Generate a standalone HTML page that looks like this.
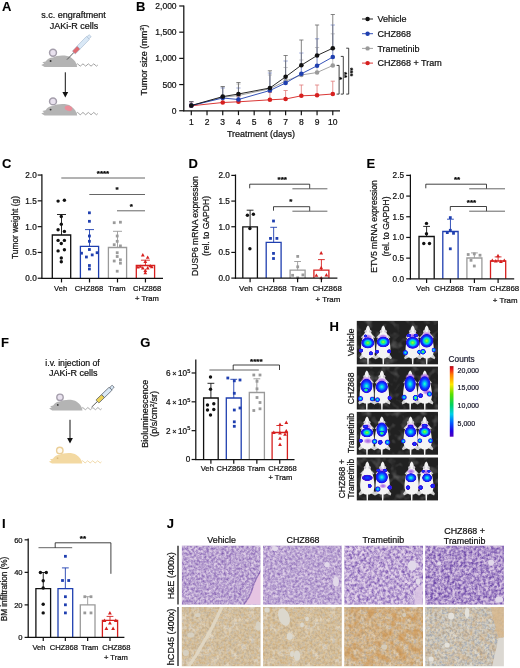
<!DOCTYPE html>
<html lang="en"><head><meta charset="utf-8"><title>Figure</title>
<style>html,body{margin:0;padding:0;background:#fff}svg{display:block}text{font-family:"Liberation Sans", Arial, sans-serif}</style>
</head><body>
<svg width="520" height="668" viewBox="0 0 520 668" font-family='"Liberation Sans", Arial, sans-serif'>
<rect width="520" height="668" fill="#fff"/>
<g id="panelA">
<text x="2.00" y="11.35" font-size="13" text-anchor="start" fill="#000" stroke="#000" stroke-width="0.1" font-weight="bold">A</text>
<text x="73.50" y="18.42" font-size="9" text-anchor="middle" fill="#111" stroke="#111" stroke-width="0.22">s.c. engraftment</text>
<text x="74.00" y="28.62" font-size="9" text-anchor="middle" fill="#111" stroke="#111" stroke-width="0.22">JAKi-R cells</text>
<g transform="translate(53.00 52.80) scale(1.0) translate(-53 -52.8)">
<path d="M76.2 65.0 q1.35 -2.3 2.7 0 t2.7 0 q1.35 -2.3 2.7 0 t2.7 0 q1.35 -2.3 2.7 0 t2.7 0 q1.35 -2.3 2.7 0 t2.7 0" stroke="#a0a0a0" stroke-width="1.0" fill="none"/>
<path d="M41.3 64.9 L44.2 63.6 L42.3 62.3 L45.6 61.6 C47.5 58.6 50 57.6 53 57.4 C56 55.6 66 54.2 71 57.6 C74.5 60 76.6 63 77.2 66.9 L44.6 66.9 Z" fill="#b4b4b4"/>
<circle cx="53" cy="52.8" r="3.45" fill="#e9e2ef" stroke="#a49eab" stroke-width="1.5"/>
<circle cx="50.6" cy="61" r="0.95" fill="#333"/>
</g>
<g transform="translate(67.00 59.60) rotate(-46)">
<line x1="0" y1="0" x2="10.3" y2="0" stroke="#555" stroke-width="0.9"/>
<rect x="16.400000000000002" y="-2.1" width="13.9" height="4.2" rx="0.7" fill="#d9e8f6" stroke="#9ab0c8" stroke-width="0.5"/>
<rect x="9.8" y="-2.1" width="6.9" height="4.2" rx="0.6" fill="#e06a70" stroke="#9ab0c8" stroke-width="0.5"/>
<rect x="30.300000000000004" y="-1.512" width="3.1" height="3.024" rx="0.8" fill="#d9e8f6" stroke="#9ab0c8" stroke-width="0.5"/>
</g>
<line x1="65.30" y1="72.30" x2="65.30" y2="92.40" stroke="#111" stroke-width="1.0"/>
<path d="M62.40 91.90 L68.20 91.90 L65.30 97.50 Z" fill="#111"/>
<g transform="translate(53.00 101.40) scale(1.0) translate(-53 -52.8)">
<path d="M76.2 65.0 q1.35 -2.3 2.7 0 t2.7 0 q1.35 -2.3 2.7 0 t2.7 0 q1.35 -2.3 2.7 0 t2.7 0 q1.35 -2.3 2.7 0 t2.7 0" stroke="#a0a0a0" stroke-width="1.0" fill="none"/>
<path d="M41.3 64.9 L44.2 63.6 L42.3 62.3 L45.6 61.6 C47.5 58.6 50 57.6 53 57.4 C56 55.6 66 54.2 71 57.6 C74.5 60 76.6 63 77.2 66.9 L44.6 66.9 Z" fill="#b4b4b4"/>
<circle cx="53" cy="52.8" r="3.45" fill="#e9e2ef" stroke="#a49eab" stroke-width="1.5"/>
<circle cx="50.6" cy="61" r="0.95" fill="#333"/>
</g>
<ellipse cx="68.5" cy="108.3" rx="3.9" ry="2.6" transform="rotate(18 68.5 108.3)" fill="#ea8e9a"/>
</g>
<g id="panelB">
<text x="136.00" y="11.35" font-size="13" text-anchor="start" fill="#000" stroke="#000" stroke-width="0.1" font-weight="bold">B</text>
<line x1="183.80" y1="5.40" x2="183.80" y2="111.35" stroke="#111" stroke-width="1.25"/>
<line x1="183.20" y1="110.75" x2="340.00" y2="110.75" stroke="#111" stroke-width="1.25"/>
<line x1="179.20" y1="110.75" x2="183.80" y2="110.75" stroke="#111" stroke-width="1.2"/>
<text x="176.60" y="113.79" font-size="8.5" text-anchor="end" fill="#111" stroke="#111" stroke-width="0.22">0</text>
<line x1="179.20" y1="84.56" x2="183.80" y2="84.56" stroke="#111" stroke-width="1.2"/>
<text x="176.60" y="87.60" font-size="8.5" text-anchor="end" fill="#111" stroke="#111" stroke-width="0.22">500</text>
<line x1="179.20" y1="58.37" x2="183.80" y2="58.37" stroke="#111" stroke-width="1.2"/>
<text x="176.60" y="61.41" font-size="8.5" text-anchor="end" fill="#111" stroke="#111" stroke-width="0.22">1,000</text>
<line x1="179.20" y1="32.18" x2="183.80" y2="32.18" stroke="#111" stroke-width="1.2"/>
<text x="176.60" y="35.22" font-size="8.5" text-anchor="end" fill="#111" stroke="#111" stroke-width="0.22">1,500</text>
<line x1="179.20" y1="5.99" x2="183.80" y2="5.99" stroke="#111" stroke-width="1.2"/>
<text x="176.60" y="9.03" font-size="8.5" text-anchor="end" fill="#111" stroke="#111" stroke-width="0.22">2,000</text>
<line x1="191.30" y1="110.75" x2="191.30" y2="115.15" stroke="#111" stroke-width="1.2"/>
<text x="191.30" y="125.04" font-size="8.5" text-anchor="middle" fill="#111" stroke="#111" stroke-width="0.22">1</text>
<line x1="207.02" y1="110.75" x2="207.02" y2="115.15" stroke="#111" stroke-width="1.2"/>
<text x="207.02" y="125.04" font-size="8.5" text-anchor="middle" fill="#111" stroke="#111" stroke-width="0.22">2</text>
<line x1="222.74" y1="110.75" x2="222.74" y2="115.15" stroke="#111" stroke-width="1.2"/>
<text x="222.74" y="125.04" font-size="8.5" text-anchor="middle" fill="#111" stroke="#111" stroke-width="0.22">3</text>
<line x1="238.46" y1="110.75" x2="238.46" y2="115.15" stroke="#111" stroke-width="1.2"/>
<text x="238.46" y="125.04" font-size="8.5" text-anchor="middle" fill="#111" stroke="#111" stroke-width="0.22">4</text>
<line x1="254.18" y1="110.75" x2="254.18" y2="115.15" stroke="#111" stroke-width="1.2"/>
<text x="254.18" y="125.04" font-size="8.5" text-anchor="middle" fill="#111" stroke="#111" stroke-width="0.22">5</text>
<line x1="269.90" y1="110.75" x2="269.90" y2="115.15" stroke="#111" stroke-width="1.2"/>
<text x="269.90" y="125.04" font-size="8.5" text-anchor="middle" fill="#111" stroke="#111" stroke-width="0.22">6</text>
<line x1="285.62" y1="110.75" x2="285.62" y2="115.15" stroke="#111" stroke-width="1.2"/>
<text x="285.62" y="125.04" font-size="8.5" text-anchor="middle" fill="#111" stroke="#111" stroke-width="0.22">7</text>
<line x1="301.34" y1="110.75" x2="301.34" y2="115.15" stroke="#111" stroke-width="1.2"/>
<text x="301.34" y="125.04" font-size="8.5" text-anchor="middle" fill="#111" stroke="#111" stroke-width="0.22">8</text>
<line x1="317.06" y1="110.75" x2="317.06" y2="115.15" stroke="#111" stroke-width="1.2"/>
<text x="317.06" y="125.04" font-size="8.5" text-anchor="middle" fill="#111" stroke="#111" stroke-width="0.22">9</text>
<line x1="332.78" y1="110.75" x2="332.78" y2="115.15" stroke="#111" stroke-width="1.2"/>
<text x="332.78" y="125.04" font-size="8.5" text-anchor="middle" fill="#111" stroke="#111" stroke-width="0.22">10</text>
<text x="143.80" y="63.22" font-size="9" text-anchor="middle" fill="#111" stroke="#111" stroke-width="0.22" transform="rotate(-90 143.80 60.00)">Tumor size (mm<tspan font-size="6" dy="-3.2">3</tspan><tspan dy="3.2">)</tspan></text>
<text x="261.00" y="137.22" font-size="9" text-anchor="middle" fill="#111" stroke="#111" stroke-width="0.22">Treatment (days)</text>
<line x1="191.30" y1="105.60" x2="191.30" y2="101.50" stroke="#b5b5b5" stroke-width="0.8"/>
<line x1="189.20" y1="101.50" x2="193.40" y2="101.50" stroke="#b5b5b5" stroke-width="0.8"/>
<line x1="222.74" y1="97.20" x2="222.74" y2="87.00" stroke="#b5b5b5" stroke-width="0.8"/>
<line x1="220.64" y1="87.00" x2="224.84" y2="87.00" stroke="#b5b5b5" stroke-width="0.8"/>
<line x1="238.46" y1="95.50" x2="238.46" y2="84.00" stroke="#b5b5b5" stroke-width="0.8"/>
<line x1="236.36" y1="84.00" x2="240.56" y2="84.00" stroke="#b5b5b5" stroke-width="0.8"/>
<line x1="269.90" y1="88.80" x2="269.90" y2="75.00" stroke="#b5b5b5" stroke-width="0.8"/>
<line x1="267.80" y1="75.00" x2="272.00" y2="75.00" stroke="#b5b5b5" stroke-width="0.8"/>
<line x1="285.62" y1="81.00" x2="285.62" y2="67.50" stroke="#b5b5b5" stroke-width="0.8"/>
<line x1="283.52" y1="67.50" x2="287.72" y2="67.50" stroke="#b5b5b5" stroke-width="0.8"/>
<line x1="301.34" y1="75.00" x2="301.34" y2="60.00" stroke="#b5b5b5" stroke-width="0.8"/>
<line x1="299.24" y1="60.00" x2="303.44" y2="60.00" stroke="#b5b5b5" stroke-width="0.8"/>
<line x1="317.06" y1="72.50" x2="317.06" y2="47.50" stroke="#b5b5b5" stroke-width="0.8"/>
<line x1="314.96" y1="47.50" x2="319.16" y2="47.50" stroke="#b5b5b5" stroke-width="0.8"/>
<line x1="332.78" y1="65.50" x2="332.78" y2="33.80" stroke="#b5b5b5" stroke-width="0.8"/>
<line x1="330.68" y1="33.80" x2="334.88" y2="33.80" stroke="#b5b5b5" stroke-width="0.8"/>
<polyline points="191.30,105.60 222.74,97.20 238.46,95.50 269.90,88.80 285.62,81.00 301.34,75.00 317.06,72.50 332.78,65.50" fill="none" stroke="#9a9a9a" stroke-width="0.9"/>
<circle cx="191.30" cy="105.60" r="2.3" fill="#9a9a9a"/>
<circle cx="222.74" cy="97.20" r="2.3" fill="#9a9a9a"/>
<circle cx="238.46" cy="95.50" r="2.3" fill="#9a9a9a"/>
<circle cx="269.90" cy="88.80" r="2.3" fill="#9a9a9a"/>
<circle cx="285.62" cy="81.00" r="2.3" fill="#9a9a9a"/>
<circle cx="301.34" cy="75.00" r="2.3" fill="#9a9a9a"/>
<circle cx="317.06" cy="72.50" r="2.3" fill="#9a9a9a"/>
<circle cx="332.78" cy="65.50" r="2.3" fill="#9a9a9a"/>
<line x1="191.30" y1="105.80" x2="191.30" y2="102.00" stroke="#e07a78" stroke-width="0.8"/>
<line x1="189.20" y1="102.00" x2="193.40" y2="102.00" stroke="#e07a78" stroke-width="0.8"/>
<line x1="222.74" y1="102.50" x2="222.74" y2="97.00" stroke="#e07a78" stroke-width="0.8"/>
<line x1="220.64" y1="97.00" x2="224.84" y2="97.00" stroke="#e07a78" stroke-width="0.8"/>
<line x1="238.46" y1="101.80" x2="238.46" y2="96.00" stroke="#e07a78" stroke-width="0.8"/>
<line x1="236.36" y1="96.00" x2="240.56" y2="96.00" stroke="#e07a78" stroke-width="0.8"/>
<line x1="269.90" y1="99.80" x2="269.90" y2="92.50" stroke="#e07a78" stroke-width="0.8"/>
<line x1="267.80" y1="92.50" x2="272.00" y2="92.50" stroke="#e07a78" stroke-width="0.8"/>
<line x1="285.62" y1="99.00" x2="285.62" y2="90.50" stroke="#e07a78" stroke-width="0.8"/>
<line x1="283.52" y1="90.50" x2="287.72" y2="90.50" stroke="#e07a78" stroke-width="0.8"/>
<line x1="301.34" y1="95.80" x2="301.34" y2="85.00" stroke="#e07a78" stroke-width="0.8"/>
<line x1="299.24" y1="85.00" x2="303.44" y2="85.00" stroke="#e07a78" stroke-width="0.8"/>
<line x1="317.06" y1="95.20" x2="317.06" y2="85.00" stroke="#e07a78" stroke-width="0.8"/>
<line x1="314.96" y1="85.00" x2="319.16" y2="85.00" stroke="#e07a78" stroke-width="0.8"/>
<line x1="332.78" y1="94.00" x2="332.78" y2="81.20" stroke="#e07a78" stroke-width="0.8"/>
<line x1="330.68" y1="81.20" x2="334.88" y2="81.20" stroke="#e07a78" stroke-width="0.8"/>
<polyline points="191.30,105.80 222.74,102.50 238.46,101.80 269.90,99.80 285.62,99.00 301.34,95.80 317.06,95.20 332.78,94.00" fill="none" stroke="#d6201f" stroke-width="0.9"/>
<circle cx="191.30" cy="105.80" r="2.3" fill="#d6201f"/>
<circle cx="222.74" cy="102.50" r="2.3" fill="#d6201f"/>
<circle cx="238.46" cy="101.80" r="2.3" fill="#d6201f"/>
<circle cx="269.90" cy="99.80" r="2.3" fill="#d6201f"/>
<circle cx="285.62" cy="99.00" r="2.3" fill="#d6201f"/>
<circle cx="301.34" cy="95.80" r="2.3" fill="#d6201f"/>
<circle cx="317.06" cy="95.20" r="2.3" fill="#d6201f"/>
<circle cx="332.78" cy="94.00" r="2.3" fill="#d6201f"/>
<line x1="191.30" y1="105.60" x2="191.30" y2="101.80" stroke="#7d8fd0" stroke-width="0.8"/>
<line x1="189.20" y1="101.80" x2="193.40" y2="101.80" stroke="#7d8fd0" stroke-width="0.8"/>
<line x1="222.74" y1="98.00" x2="222.74" y2="88.00" stroke="#7d8fd0" stroke-width="0.8"/>
<line x1="220.64" y1="88.00" x2="224.84" y2="88.00" stroke="#7d8fd0" stroke-width="0.8"/>
<line x1="238.46" y1="99.50" x2="238.46" y2="88.00" stroke="#7d8fd0" stroke-width="0.8"/>
<line x1="236.36" y1="88.00" x2="240.56" y2="88.00" stroke="#7d8fd0" stroke-width="0.8"/>
<line x1="269.90" y1="90.50" x2="269.90" y2="73.00" stroke="#7d8fd0" stroke-width="0.8"/>
<line x1="267.80" y1="73.00" x2="272.00" y2="73.00" stroke="#7d8fd0" stroke-width="0.8"/>
<line x1="285.62" y1="83.00" x2="285.62" y2="61.00" stroke="#7d8fd0" stroke-width="0.8"/>
<line x1="283.52" y1="61.00" x2="287.72" y2="61.00" stroke="#7d8fd0" stroke-width="0.8"/>
<line x1="301.34" y1="73.80" x2="301.34" y2="53.00" stroke="#7d8fd0" stroke-width="0.8"/>
<line x1="299.24" y1="53.00" x2="303.44" y2="53.00" stroke="#7d8fd0" stroke-width="0.8"/>
<line x1="317.06" y1="65.80" x2="317.06" y2="38.80" stroke="#7d8fd0" stroke-width="0.8"/>
<line x1="314.96" y1="38.80" x2="319.16" y2="38.80" stroke="#7d8fd0" stroke-width="0.8"/>
<line x1="332.78" y1="57.00" x2="332.78" y2="25.00" stroke="#7d8fd0" stroke-width="0.8"/>
<line x1="330.68" y1="25.00" x2="334.88" y2="25.00" stroke="#7d8fd0" stroke-width="0.8"/>
<polyline points="191.30,105.60 222.74,98.00 238.46,99.50 269.90,90.50 285.62,83.00 301.34,73.80 317.06,65.80 332.78,57.00" fill="none" stroke="#1f3fb0" stroke-width="0.9"/>
<circle cx="191.30" cy="105.60" r="2.3" fill="#1f3fb0"/>
<circle cx="222.74" cy="98.00" r="2.3" fill="#1f3fb0"/>
<circle cx="238.46" cy="99.50" r="2.3" fill="#1f3fb0"/>
<circle cx="269.90" cy="90.50" r="2.3" fill="#1f3fb0"/>
<circle cx="285.62" cy="83.00" r="2.3" fill="#1f3fb0"/>
<circle cx="301.34" cy="73.80" r="2.3" fill="#1f3fb0"/>
<circle cx="317.06" cy="65.80" r="2.3" fill="#1f3fb0"/>
<circle cx="332.78" cy="57.00" r="2.3" fill="#1f3fb0"/>
<line x1="191.30" y1="105.50" x2="191.30" y2="101.50" stroke="#666" stroke-width="0.8"/>
<line x1="189.20" y1="101.50" x2="193.40" y2="101.50" stroke="#666" stroke-width="0.8"/>
<line x1="222.74" y1="96.60" x2="222.74" y2="86.50" stroke="#666" stroke-width="0.8"/>
<line x1="220.64" y1="86.50" x2="224.84" y2="86.50" stroke="#666" stroke-width="0.8"/>
<line x1="238.46" y1="94.00" x2="238.46" y2="82.50" stroke="#666" stroke-width="0.8"/>
<line x1="236.36" y1="82.50" x2="240.56" y2="82.50" stroke="#666" stroke-width="0.8"/>
<line x1="269.90" y1="88.00" x2="269.90" y2="70.80" stroke="#666" stroke-width="0.8"/>
<line x1="267.80" y1="70.80" x2="272.00" y2="70.80" stroke="#666" stroke-width="0.8"/>
<line x1="285.62" y1="76.80" x2="285.62" y2="55.50" stroke="#666" stroke-width="0.8"/>
<line x1="283.52" y1="55.50" x2="287.72" y2="55.50" stroke="#666" stroke-width="0.8"/>
<line x1="301.34" y1="65.20" x2="301.34" y2="40.00" stroke="#666" stroke-width="0.8"/>
<line x1="299.24" y1="40.00" x2="303.44" y2="40.00" stroke="#666" stroke-width="0.8"/>
<line x1="317.06" y1="55.50" x2="317.06" y2="25.00" stroke="#666" stroke-width="0.8"/>
<line x1="314.96" y1="25.00" x2="319.16" y2="25.00" stroke="#666" stroke-width="0.8"/>
<line x1="332.78" y1="48.20" x2="332.78" y2="14.50" stroke="#666" stroke-width="0.8"/>
<line x1="330.68" y1="14.50" x2="334.88" y2="14.50" stroke="#666" stroke-width="0.8"/>
<polyline points="191.30,105.50 222.74,96.60 238.46,94.00 269.90,88.00 285.62,76.80 301.34,65.20 317.06,55.50 332.78,48.20" fill="none" stroke="#111" stroke-width="0.9"/>
<circle cx="191.30" cy="105.50" r="2.3" fill="#111"/>
<circle cx="222.74" cy="96.60" r="2.3" fill="#111"/>
<circle cx="238.46" cy="94.00" r="2.3" fill="#111"/>
<circle cx="269.90" cy="88.00" r="2.3" fill="#111"/>
<circle cx="285.62" cy="76.80" r="2.3" fill="#111"/>
<circle cx="301.34" cy="65.20" r="2.3" fill="#111"/>
<circle cx="317.06" cy="55.50" r="2.3" fill="#111"/>
<circle cx="332.78" cy="48.20" r="2.3" fill="#111"/>
<path d="M336.6 65.4 H339.1 V94.1 H336.6" stroke="#111" stroke-width="0.8" fill="none"/>
<path d="M340.8 56.4 H343.3 V94.1 H340.8" stroke="#111" stroke-width="0.8" fill="none"/>
<path d="M346.2 48.2 H348.7 V94.1 H346.2" stroke="#111" stroke-width="0.8" fill="none"/>
<text x="339.90" y="81.05" font-size="7.4" text-anchor="middle" fill="#000" stroke="#000" stroke-width="0.22" font-weight="bold" transform="rotate(90 339.90 78.40)">*</text>
<text x="345.00" y="77.65" font-size="7.4" text-anchor="middle" fill="#000" stroke="#000" stroke-width="0.22" font-weight="bold" transform="rotate(90 345.00 75.00)">**</text>
<text x="350.30" y="74.65" font-size="7.4" text-anchor="middle" fill="#000" stroke="#000" stroke-width="0.22" font-weight="bold" transform="rotate(90 350.30 72.00)">***</text>
<line x1="362.00" y1="19.00" x2="373.00" y2="19.00" stroke="#111" stroke-width="0.9"/>
<circle cx="367.6" cy="19.00" r="2.2" fill="#111"/>
<text x="377.40" y="22.22" font-size="9" text-anchor="start" fill="#111" stroke="#111" stroke-width="0.22">Vehicle</text>
<line x1="362.00" y1="33.70" x2="373.00" y2="33.70" stroke="#1f3fb0" stroke-width="0.9"/>
<circle cx="367.6" cy="33.70" r="2.2" fill="#1f3fb0"/>
<text x="377.40" y="36.92" font-size="9" text-anchor="start" fill="#111" stroke="#111" stroke-width="0.22">CHZ868</text>
<line x1="362.00" y1="48.40" x2="373.00" y2="48.40" stroke="#9a9a9a" stroke-width="0.9"/>
<circle cx="367.6" cy="48.40" r="2.2" fill="#9a9a9a"/>
<text x="377.40" y="51.62" font-size="9" text-anchor="start" fill="#111" stroke="#111" stroke-width="0.22">Trametinib</text>
<line x1="362.00" y1="63.10" x2="373.00" y2="63.10" stroke="#d6201f" stroke-width="0.9"/>
<circle cx="367.6" cy="63.10" r="2.2" fill="#d6201f"/>
<text x="377.40" y="66.32" font-size="9" text-anchor="start" fill="#111" stroke="#111" stroke-width="0.22">CHZ868 + Tram</text>
</g>
<text x="2.00" y="167.65" font-size="13" text-anchor="start" fill="#000" stroke="#000" stroke-width="0.1" font-weight="bold">C</text>
<text x="14.50" y="230.51" font-size="8.4" text-anchor="middle" fill="#111" stroke="#111" stroke-width="0.22" transform="rotate(-90 14.50 227.50)">Tumor weight (g)</text>
<g id="panelC">
<path d="M52.30 278.25 V235.00 H70.70 V278.25" stroke="#111" stroke-width="1.3" fill="#fff"/>
<line x1="61.50" y1="214.50" x2="61.50" y2="235.00" stroke="#111" stroke-width="0.9"/>
<line x1="57.00" y1="214.50" x2="66.00" y2="214.50" stroke="#111" stroke-width="0.9"/>
<circle cx="58.10" cy="201.10" r="1.7" fill="#111"/>
<circle cx="64.40" cy="200.30" r="1.7" fill="#111"/>
<circle cx="61.30" cy="216.50" r="1.7" fill="#111"/>
<circle cx="61.30" cy="224.30" r="1.7" fill="#111"/>
<circle cx="58.10" cy="229.80" r="1.7" fill="#111"/>
<circle cx="64.40" cy="231.40" r="1.7" fill="#111"/>
<circle cx="58.10" cy="240.40" r="1.7" fill="#111"/>
<circle cx="64.40" cy="240.40" r="1.7" fill="#111"/>
<circle cx="61.30" cy="243.50" r="1.7" fill="#111"/>
<circle cx="58.10" cy="250.90" r="1.7" fill="#111"/>
<circle cx="64.40" cy="249.80" r="1.7" fill="#111"/>
<circle cx="61.30" cy="258.00" r="1.7" fill="#111"/>
<circle cx="61.30" cy="261.80" r="1.7" fill="#111"/>
<path d="M80.40 278.25 V246.40 H98.60 V278.25" stroke="#1f3fb0" stroke-width="1.3" fill="#fff"/>
<line x1="89.50" y1="229.60" x2="89.50" y2="246.40" stroke="#1f3fb0" stroke-width="0.9"/>
<line x1="85.00" y1="229.60" x2="94.00" y2="229.60" stroke="#1f3fb0" stroke-width="0.9"/>
<rect x="88.01" y="211.41" width="2.79" height="2.79" fill="#1f3fb0"/>
<rect x="88.01" y="219.91" width="2.79" height="2.79" fill="#1f3fb0"/>
<rect x="88.01" y="234.61" width="2.79" height="2.79" fill="#1f3fb0"/>
<rect x="88.01" y="239.91" width="2.79" height="2.79" fill="#1f3fb0"/>
<rect x="88.01" y="248.11" width="2.79" height="2.79" fill="#1f3fb0"/>
<rect x="80.11" y="251.81" width="2.79" height="2.79" fill="#1f3fb0"/>
<rect x="95.71" y="251.31" width="2.79" height="2.79" fill="#1f3fb0"/>
<rect x="85.01" y="255.61" width="2.79" height="2.79" fill="#1f3fb0"/>
<rect x="90.81" y="253.51" width="2.79" height="2.79" fill="#1f3fb0"/>
<rect x="88.01" y="264.11" width="2.79" height="2.79" fill="#1f3fb0"/>
<rect x="88.01" y="267.61" width="2.79" height="2.79" fill="#1f3fb0"/>
<path d="M108.40 278.25 V247.50 H126.60 V278.25" stroke="#9a9a9a" stroke-width="1.3" fill="#fff"/>
<line x1="117.50" y1="231.30" x2="117.50" y2="247.50" stroke="#9a9a9a" stroke-width="0.9"/>
<line x1="113.00" y1="231.30" x2="122.00" y2="231.30" stroke="#9a9a9a" stroke-width="0.9"/>
<rect x="112.81" y="221.31" width="2.79" height="2.79" fill="#9a9a9a"/>
<rect x="119.01" y="220.81" width="2.79" height="2.79" fill="#9a9a9a"/>
<rect x="115.81" y="234.61" width="2.79" height="2.79" fill="#9a9a9a"/>
<rect x="115.81" y="239.91" width="2.79" height="2.79" fill="#9a9a9a"/>
<rect x="112.81" y="243.31" width="2.79" height="2.79" fill="#9a9a9a"/>
<rect x="119.01" y="244.51" width="2.79" height="2.79" fill="#9a9a9a"/>
<rect x="115.81" y="251.31" width="2.79" height="2.79" fill="#9a9a9a"/>
<rect x="115.81" y="255.11" width="2.79" height="2.79" fill="#9a9a9a"/>
<rect x="112.81" y="259.61" width="2.79" height="2.79" fill="#9a9a9a"/>
<rect x="119.01" y="258.41" width="2.79" height="2.79" fill="#9a9a9a"/>
<rect x="119.01" y="261.81" width="2.79" height="2.79" fill="#9a9a9a"/>
<rect x="115.81" y="269.81" width="2.79" height="2.79" fill="#9a9a9a"/>
<path d="M136.30 278.25 V265.50 H154.60 V278.25" stroke="#d6201f" stroke-width="1.3" fill="#fff"/>
<line x1="145.45" y1="260.20" x2="145.45" y2="265.50" stroke="#d6201f" stroke-width="0.9"/>
<line x1="140.95" y1="260.20" x2="149.95" y2="260.20" stroke="#d6201f" stroke-width="0.9"/>
<path d="M142.80 253.00 L144.70 256.42 L140.90 256.42 Z" fill="#d6201f"/>
<path d="M147.70 255.40 L149.60 258.82 L145.80 258.82 Z" fill="#d6201f"/>
<path d="M145.30 259.50 L147.20 262.92 L143.40 262.92 Z" fill="#d6201f"/>
<path d="M140.40 264.40 L142.30 267.82 L138.50 267.82 Z" fill="#d6201f"/>
<path d="M150.20 263.90 L152.10 267.32 L148.30 267.32 Z" fill="#d6201f"/>
<path d="M137.90 265.20 L139.80 268.62 L136.00 268.62 Z" fill="#d6201f"/>
<path d="M142.80 266.00 L144.70 269.42 L140.90 269.42 Z" fill="#d6201f"/>
<path d="M147.70 266.00 L149.60 269.42 L145.80 269.42 Z" fill="#d6201f"/>
<path d="M151.80 264.90 L153.70 268.32 L149.90 268.32 Z" fill="#d6201f"/>
<path d="M145.30 268.50 L147.20 271.92 L143.40 271.92 Z" fill="#d6201f"/>
<path d="M145.30 270.90 L147.20 274.32 L143.40 274.32 Z" fill="#d6201f"/>
<line x1="41.90" y1="174.30" x2="41.90" y2="278.85" stroke="#111" stroke-width="1.25"/>
<line x1="41.30" y1="278.25" x2="163.00" y2="278.25" stroke="#111" stroke-width="1.25"/>
<line x1="37.70" y1="278.25" x2="41.90" y2="278.25" stroke="#111" stroke-width="1.2"/>
<text x="36.70" y="281.19" font-size="8.2" text-anchor="end" fill="#111" stroke="#111" stroke-width="0.22">0.0</text>
<line x1="37.70" y1="252.45" x2="41.90" y2="252.45" stroke="#111" stroke-width="1.2"/>
<text x="36.70" y="255.39" font-size="8.2" text-anchor="end" fill="#111" stroke="#111" stroke-width="0.22">0.5</text>
<line x1="37.70" y1="226.65" x2="41.90" y2="226.65" stroke="#111" stroke-width="1.2"/>
<text x="36.70" y="229.59" font-size="8.2" text-anchor="end" fill="#111" stroke="#111" stroke-width="0.22">1.0</text>
<line x1="37.70" y1="200.85" x2="41.90" y2="200.85" stroke="#111" stroke-width="1.2"/>
<text x="36.70" y="203.79" font-size="8.2" text-anchor="end" fill="#111" stroke="#111" stroke-width="0.22">1.5</text>
<line x1="37.70" y1="175.05" x2="41.90" y2="175.05" stroke="#111" stroke-width="1.2"/>
<text x="36.70" y="177.99" font-size="8.2" text-anchor="end" fill="#111" stroke="#111" stroke-width="0.22">2.0</text>
<line x1="61.50" y1="278.25" x2="61.50" y2="282.45" stroke="#111" stroke-width="1.2"/>
<line x1="89.50" y1="278.25" x2="89.50" y2="282.45" stroke="#111" stroke-width="1.2"/>
<line x1="117.50" y1="278.25" x2="117.50" y2="282.45" stroke="#111" stroke-width="1.2"/>
<line x1="145.45" y1="278.25" x2="145.45" y2="282.45" stroke="#111" stroke-width="1.2"/>
</g>
<line x1="61.30" y1="178.00" x2="145.00" y2="178.00" stroke="#555" stroke-width="0.9"/>
<text x="103.00" y="176.46" font-size="8" text-anchor="middle" fill="#000" stroke="#000" stroke-width="0.22" font-weight="bold">****</text>
<line x1="89.30" y1="194.50" x2="145.00" y2="194.50" stroke="#555" stroke-width="0.9"/>
<text x="117.00" y="192.46" font-size="8" text-anchor="middle" fill="#000" stroke="#000" stroke-width="0.22" font-weight="bold">*</text>
<line x1="117.00" y1="210.80" x2="145.00" y2="210.80" stroke="#555" stroke-width="0.9"/>
<text x="131.20" y="208.76" font-size="8" text-anchor="middle" fill="#000" stroke="#000" stroke-width="0.22" font-weight="bold">*</text>
<text x="60.60" y="290.72" font-size="7.6" text-anchor="middle" fill="#111" stroke="#111" stroke-width="0.22">Veh</text>
<text x="89.00" y="290.72" font-size="7.6" text-anchor="middle" fill="#111" stroke="#111" stroke-width="0.22">CHZ868</text>
<text x="116.90" y="290.72" font-size="7.6" text-anchor="middle" fill="#111" stroke="#111" stroke-width="0.22">Tram</text>
<text x="147.10" y="290.72" font-size="7.6" text-anchor="middle" fill="#111" stroke="#111" stroke-width="0.22">CHZ868</text>
<text x="146.90" y="300.72" font-size="7.6" text-anchor="middle" fill="#111" stroke="#111" stroke-width="0.22">+ Tram</text>
<text x="188.60" y="167.65" font-size="13" text-anchor="start" fill="#000" stroke="#000" stroke-width="0.1" font-weight="bold">D</text>
<text x="194.50" y="229.08" font-size="8.6" text-anchor="middle" fill="#111" stroke="#111" stroke-width="0.22" transform="rotate(-90 194.50 226.00)">DUSP6 mRNA expression</text>
<text x="206.30" y="229.08" font-size="8.6" text-anchor="middle" fill="#111" stroke="#111" stroke-width="0.22" transform="rotate(-90 206.30 226.00)">(rel. to GAPDH)</text>
<g id="panelD">
<path d="M242.80 278.10 V226.80 H257.40 V278.10" stroke="#111" stroke-width="1.3" fill="#fff"/>
<line x1="250.10" y1="210.20" x2="250.10" y2="226.80" stroke="#111" stroke-width="0.9"/>
<line x1="246.70" y1="210.20" x2="253.50" y2="210.20" stroke="#111" stroke-width="0.9"/>
<circle cx="247.40" cy="215.30" r="1.7" fill="#111"/>
<circle cx="253.40" cy="214.20" r="1.7" fill="#111"/>
<circle cx="249.90" cy="228.50" r="1.7" fill="#111"/>
<circle cx="249.90" cy="248.80" r="1.7" fill="#111"/>
<path d="M266.20 278.10 V242.30 H281.10 V278.10" stroke="#1f3fb0" stroke-width="1.3" fill="#fff"/>
<line x1="273.65" y1="227.30" x2="273.65" y2="242.30" stroke="#1f3fb0" stroke-width="0.9"/>
<line x1="270.25" y1="227.30" x2="277.05" y2="227.30" stroke="#1f3fb0" stroke-width="0.9"/>
<rect x="272.11" y="219.61" width="2.79" height="2.79" fill="#1f3fb0"/>
<rect x="269.11" y="237.01" width="2.79" height="2.79" fill="#1f3fb0"/>
<rect x="275.51" y="237.01" width="2.79" height="2.79" fill="#1f3fb0"/>
<rect x="272.11" y="252.01" width="2.79" height="2.79" fill="#1f3fb0"/>
<rect x="272.11" y="257.11" width="2.79" height="2.79" fill="#1f3fb0"/>
<path d="M290.10 278.10 V270.20 H305.10 V278.10" stroke="#9a9a9a" stroke-width="1.3" fill="#fff"/>
<line x1="297.60" y1="261.50" x2="297.60" y2="270.20" stroke="#9a9a9a" stroke-width="0.9"/>
<line x1="294.20" y1="261.50" x2="301.00" y2="261.50" stroke="#9a9a9a" stroke-width="0.9"/>
<rect x="296.31" y="255.01" width="2.79" height="2.79" fill="#9a9a9a"/>
<rect x="296.31" y="265.41" width="2.79" height="2.79" fill="#9a9a9a"/>
<rect x="291.21" y="273.91" width="2.79" height="2.79" fill="#9a9a9a"/>
<rect x="301.51" y="273.51" width="2.79" height="2.79" fill="#9a9a9a"/>
<rect x="296.31" y="276.41" width="2.79" height="2.79" fill="#9a9a9a"/>
<path d="M313.90 278.10 V270.20 H328.90 V278.10" stroke="#d6201f" stroke-width="1.3" fill="#fff"/>
<line x1="321.40" y1="259.60" x2="321.40" y2="270.20" stroke="#d6201f" stroke-width="0.9"/>
<line x1="318.00" y1="259.60" x2="324.80" y2="259.60" stroke="#d6201f" stroke-width="0.9"/>
<path d="M321.20 251.00 L323.10 254.42 L319.30 254.42 Z" fill="#d6201f"/>
<path d="M321.20 265.80 L323.10 269.22 L319.30 269.22 Z" fill="#d6201f"/>
<path d="M316.40 273.40 L318.30 276.82 L314.50 276.82 Z" fill="#d6201f"/>
<path d="M326.40 273.00 L328.30 276.42 L324.50 276.42 Z" fill="#d6201f"/>
<path d="M321.20 275.90 L323.10 279.32 L319.30 279.32 Z" fill="#d6201f"/>
<line x1="235.50" y1="174.50" x2="235.50" y2="278.70" stroke="#111" stroke-width="1.25"/>
<line x1="234.90" y1="278.10" x2="337.40" y2="278.10" stroke="#111" stroke-width="1.25"/>
<line x1="231.30" y1="278.10" x2="235.50" y2="278.10" stroke="#111" stroke-width="1.2"/>
<text x="229.80" y="281.04" font-size="8.2" text-anchor="end" fill="#111" stroke="#111" stroke-width="0.22">0.0</text>
<line x1="231.30" y1="252.43" x2="235.50" y2="252.43" stroke="#111" stroke-width="1.2"/>
<text x="229.80" y="255.36" font-size="8.2" text-anchor="end" fill="#111" stroke="#111" stroke-width="0.22">0.5</text>
<line x1="231.30" y1="226.75" x2="235.50" y2="226.75" stroke="#111" stroke-width="1.2"/>
<text x="229.80" y="229.69" font-size="8.2" text-anchor="end" fill="#111" stroke="#111" stroke-width="0.22">1.0</text>
<line x1="231.30" y1="201.08" x2="235.50" y2="201.08" stroke="#111" stroke-width="1.2"/>
<text x="229.80" y="204.01" font-size="8.2" text-anchor="end" fill="#111" stroke="#111" stroke-width="0.22">1.5</text>
<line x1="231.30" y1="175.40" x2="235.50" y2="175.40" stroke="#111" stroke-width="1.2"/>
<text x="229.80" y="178.34" font-size="8.2" text-anchor="end" fill="#111" stroke="#111" stroke-width="0.22">2.0</text>
<line x1="250.10" y1="278.10" x2="250.10" y2="282.30" stroke="#111" stroke-width="1.2"/>
<line x1="273.65" y1="278.10" x2="273.65" y2="282.30" stroke="#111" stroke-width="1.2"/>
<line x1="297.60" y1="278.10" x2="297.60" y2="282.30" stroke="#111" stroke-width="1.2"/>
<line x1="321.40" y1="278.10" x2="321.40" y2="282.30" stroke="#111" stroke-width="1.2"/>
</g>
<path d="M249.7 188.3 V184.2 H309.7 V188.8" stroke="#111" stroke-width="0.8" fill="none"/>
<line x1="292.40" y1="188.80" x2="327.40" y2="188.80" stroke="#555" stroke-width="0.9"/>
<text x="282.20" y="182.26" font-size="8" text-anchor="middle" fill="#000" stroke="#000" stroke-width="0.22" font-weight="bold">***</text>
<path d="M273.5 210.7 V206.7 H309.7 V211.2" stroke="#111" stroke-width="0.8" fill="none"/>
<line x1="292.40" y1="211.20" x2="327.40" y2="211.20" stroke="#555" stroke-width="0.9"/>
<text x="290.80" y="204.46" font-size="8" text-anchor="middle" fill="#000" stroke="#000" stroke-width="0.22" font-weight="bold">*</text>
<text x="245.90" y="290.63" font-size="7.9" text-anchor="middle" fill="#111" stroke="#111" stroke-width="0.22">Veh</text>
<text x="272.00" y="290.63" font-size="7.9" text-anchor="middle" fill="#111" stroke="#111" stroke-width="0.22">CHZ868</text>
<text x="299.60" y="290.63" font-size="7.9" text-anchor="middle" fill="#111" stroke="#111" stroke-width="0.22">Tram</text>
<text x="327.10" y="290.63" font-size="7.9" text-anchor="middle" fill="#111" stroke="#111" stroke-width="0.22">CHZ868</text>
<text x="327.90" y="301.63" font-size="7.9" text-anchor="middle" fill="#111" stroke="#111" stroke-width="0.22">+ Tram</text>
<text x="366.60" y="167.65" font-size="13" text-anchor="start" fill="#000" stroke="#000" stroke-width="0.1" font-weight="bold">E</text>
<text x="373.90" y="229.58" font-size="8.6" text-anchor="middle" fill="#111" stroke="#111" stroke-width="0.22" transform="rotate(-90 373.90 226.50)">ETV5 mRNA expression</text>
<text x="386.00" y="229.58" font-size="8.6" text-anchor="middle" fill="#111" stroke="#111" stroke-width="0.22" transform="rotate(-90 386.00 226.50)">(rel. to GAPDH)</text>
<g id="panelE">
<path d="M419.00 278.80 V236.50 H434.20 V278.80" stroke="#111" stroke-width="1.3" fill="#fff"/>
<line x1="426.60" y1="226.40" x2="426.60" y2="236.50" stroke="#111" stroke-width="0.9"/>
<line x1="423.20" y1="226.40" x2="430.00" y2="226.40" stroke="#111" stroke-width="0.9"/>
<circle cx="426.50" cy="223.40" r="1.7" fill="#111"/>
<circle cx="426.50" cy="233.80" r="1.7" fill="#111"/>
<circle cx="423.80" cy="243.50" r="1.7" fill="#111"/>
<circle cx="429.50" cy="243.50" r="1.7" fill="#111"/>
<path d="M442.80 278.80 V231.50 H458.10 V278.80" stroke="#1f3fb0" stroke-width="1.3" fill="#fff"/>
<line x1="450.45" y1="219.20" x2="450.45" y2="231.50" stroke="#1f3fb0" stroke-width="0.9"/>
<line x1="447.05" y1="219.20" x2="453.85" y2="219.20" stroke="#1f3fb0" stroke-width="0.9"/>
<rect x="448.91" y="216.21" width="2.79" height="2.79" fill="#1f3fb0"/>
<rect x="445.91" y="231.21" width="2.79" height="2.79" fill="#1f3fb0"/>
<rect x="452.11" y="231.91" width="2.79" height="2.79" fill="#1f3fb0"/>
<rect x="448.91" y="228.91" width="2.79" height="2.79" fill="#1f3fb0"/>
<rect x="448.91" y="247.41" width="2.79" height="2.79" fill="#1f3fb0"/>
<path d="M466.90 278.80 V258.00 H481.90 V278.80" stroke="#9a9a9a" stroke-width="1.3" fill="#fff"/>
<line x1="474.40" y1="252.90" x2="474.40" y2="258.00" stroke="#9a9a9a" stroke-width="0.9"/>
<line x1="471.00" y1="252.90" x2="477.80" y2="252.90" stroke="#9a9a9a" stroke-width="0.9"/>
<rect x="466.81" y="253.11" width="2.79" height="2.79" fill="#9a9a9a"/>
<rect x="472.91" y="252.51" width="2.79" height="2.79" fill="#9a9a9a"/>
<rect x="478.61" y="253.81" width="2.79" height="2.79" fill="#9a9a9a"/>
<rect x="469.61" y="258.91" width="2.79" height="2.79" fill="#9a9a9a"/>
<rect x="472.91" y="264.61" width="2.79" height="2.79" fill="#9a9a9a"/>
<path d="M490.50 278.80 V261.00 H505.70 V278.80" stroke="#d6201f" stroke-width="1.3" fill="#fff"/>
<line x1="498.10" y1="256.90" x2="498.10" y2="261.00" stroke="#d6201f" stroke-width="0.9"/>
<line x1="494.70" y1="256.90" x2="501.50" y2="256.90" stroke="#d6201f" stroke-width="0.9"/>
<path d="M498.00 253.80 L499.90 257.22 L496.10 257.22 Z" fill="#d6201f"/>
<path d="M492.30 258.40 L494.20 261.82 L490.40 261.82 Z" fill="#d6201f"/>
<path d="M495.80 259.10 L497.70 262.52 L493.90 262.52 Z" fill="#d6201f"/>
<path d="M500.90 259.60 L502.80 263.02 L499.00 263.02 Z" fill="#d6201f"/>
<path d="M504.30 258.40 L506.20 261.82 L502.40 261.82 Z" fill="#d6201f"/>
<line x1="410.40" y1="174.50" x2="410.40" y2="279.40" stroke="#111" stroke-width="1.25"/>
<line x1="409.80" y1="278.80" x2="514.20" y2="278.80" stroke="#111" stroke-width="1.25"/>
<line x1="406.20" y1="278.80" x2="410.40" y2="278.80" stroke="#111" stroke-width="1.2"/>
<text x="404.00" y="281.74" font-size="8.2" text-anchor="end" fill="#111" stroke="#111" stroke-width="0.22">0.0</text>
<line x1="406.20" y1="258.12" x2="410.40" y2="258.12" stroke="#111" stroke-width="1.2"/>
<text x="404.00" y="261.06" font-size="8.2" text-anchor="end" fill="#111" stroke="#111" stroke-width="0.22">0.5</text>
<line x1="406.20" y1="237.44" x2="410.40" y2="237.44" stroke="#111" stroke-width="1.2"/>
<text x="404.00" y="240.38" font-size="8.2" text-anchor="end" fill="#111" stroke="#111" stroke-width="0.22">1.0</text>
<line x1="406.20" y1="216.76" x2="410.40" y2="216.76" stroke="#111" stroke-width="1.2"/>
<text x="404.00" y="219.70" font-size="8.2" text-anchor="end" fill="#111" stroke="#111" stroke-width="0.22">1.5</text>
<line x1="406.20" y1="196.08" x2="410.40" y2="196.08" stroke="#111" stroke-width="1.2"/>
<text x="404.00" y="199.02" font-size="8.2" text-anchor="end" fill="#111" stroke="#111" stroke-width="0.22">2.0</text>
<line x1="406.20" y1="175.40" x2="410.40" y2="175.40" stroke="#111" stroke-width="1.2"/>
<text x="404.00" y="178.34" font-size="8.2" text-anchor="end" fill="#111" stroke="#111" stroke-width="0.22">2.5</text>
<line x1="426.60" y1="278.80" x2="426.60" y2="283.00" stroke="#111" stroke-width="1.2"/>
<line x1="450.45" y1="278.80" x2="450.45" y2="283.00" stroke="#111" stroke-width="1.2"/>
<line x1="474.40" y1="278.80" x2="474.40" y2="283.00" stroke="#111" stroke-width="1.2"/>
<line x1="498.10" y1="278.80" x2="498.10" y2="283.00" stroke="#111" stroke-width="1.2"/>
</g>
<path d="M425.8 188.3 V184.2 H486.5 V188.8" stroke="#111" stroke-width="0.8" fill="none"/>
<line x1="469.20" y1="188.80" x2="505.00" y2="188.80" stroke="#555" stroke-width="0.9"/>
<text x="457.00" y="182.06" font-size="8" text-anchor="middle" fill="#000" stroke="#000" stroke-width="0.22" font-weight="bold">**</text>
<path d="M450.3 210.7 V206.5 H486.5 V211.2" stroke="#111" stroke-width="0.8" fill="none"/>
<line x1="469.20" y1="211.20" x2="505.00" y2="211.20" stroke="#555" stroke-width="0.9"/>
<text x="471.50" y="204.76" font-size="8" text-anchor="middle" fill="#000" stroke="#000" stroke-width="0.22" font-weight="bold">***</text>
<text x="422.90" y="291.43" font-size="7.9" text-anchor="middle" fill="#111" stroke="#111" stroke-width="0.22">Veh</text>
<text x="449.00" y="291.43" font-size="7.9" text-anchor="middle" fill="#111" stroke="#111" stroke-width="0.22">CHZ868</text>
<text x="477.10" y="291.43" font-size="7.9" text-anchor="middle" fill="#111" stroke="#111" stroke-width="0.22">Tram</text>
<text x="504.50" y="291.43" font-size="7.9" text-anchor="middle" fill="#111" stroke="#111" stroke-width="0.22">CHZ868</text>
<text x="505.20" y="302.83" font-size="7.9" text-anchor="middle" fill="#111" stroke="#111" stroke-width="0.22">+ Tram</text>
<g id="panelF">
<text x="1.00" y="347.15" font-size="13" text-anchor="start" fill="#000" stroke="#000" stroke-width="0.1" font-weight="bold">F</text>
<text x="72.50" y="366.11" font-size="8.7" text-anchor="middle" fill="#111" stroke="#111" stroke-width="0.22">i.v. injection of</text>
<text x="73.20" y="376.22" font-size="9" text-anchor="middle" fill="#111" stroke="#111" stroke-width="0.22">JAKi-R cells</text>
<g transform="translate(60.00 397.30) scale(0.93) translate(-53 -52.8)">
<path d="M76.2 65.0 q1.35 -2.3 2.7 0 t2.7 0 q1.35 -2.3 2.7 0 t2.7 0 q1.35 -2.3 2.7 0 t2.7 0 q1.35 -2.3 2.7 0 t2.7 0" stroke="#a0a0a0" stroke-width="1.0" fill="none"/>
<path d="M41.3 64.9 L44.2 63.6 L42.3 62.3 L45.6 61.6 C47.5 58.6 50 57.6 53 57.4 C56 55.6 66 54.2 71 57.6 C74.5 60 76.6 63 77.2 66.9 L44.6 66.9 Z" fill="#b4b4b4"/>
<circle cx="53" cy="52.8" r="3.45" fill="#e9e2ef" stroke="#a49eab" stroke-width="1.5"/>
<circle cx="50.6" cy="61" r="0.95" fill="#333"/>
</g>
<g transform="translate(91.50 407.20) rotate(-44)">
<line x1="0" y1="0" x2="8.7" y2="0" stroke="#555" stroke-width="0.9"/>
<rect x="15.7" y="-2.1" width="10.9" height="4.2" rx="0.7" fill="#d9e8f6" stroke="#4f5660" stroke-width="0.7"/>
<rect x="8.2" y="-2.1" width="7.8" height="4.2" rx="0.6" fill="#ecd35a" stroke="#4f5660" stroke-width="0.7"/>
<rect x="26.6" y="-1.512" width="3.6" height="3.024" rx="0.8" fill="#d9e8f6" stroke="#4f5660" stroke-width="0.7"/>
</g>
<line x1="70.00" y1="419.80" x2="70.00" y2="438.50" stroke="#111" stroke-width="1.0"/>
<path d="M67.10 438.00 L72.90 438.00 L70.00 443.60 Z" fill="#111"/>
<g transform="translate(59.80 450.50) scale(0.93) translate(-53 -52.8)">
<path d="M76.2 65.0 q1.35 -2.3 2.7 0 t2.7 0 q1.35 -2.3 2.7 0 t2.7 0 q1.35 -2.3 2.7 0 t2.7 0 q1.35 -2.3 2.7 0 t2.7 0" stroke="#efd5a0" stroke-width="1.0" fill="none"/>
<path d="M41.3 64.9 L44.2 63.6 L42.3 62.3 L45.6 61.6 C47.5 58.6 50 57.6 53 57.4 C56 55.6 66 54.2 71 57.6 C74.5 60 76.6 63 77.2 66.9 L44.6 66.9 Z" fill="#f3d9a2"/>
<circle cx="53" cy="52.8" r="3.45" fill="#fffaf0" stroke="#ebcf98" stroke-width="1.5"/>
<circle cx="50.6" cy="61" r="0.95" fill="#dcbc80"/>
</g>
</g>
<text x="140.30" y="346.95" font-size="13" text-anchor="start" fill="#000" stroke="#000" stroke-width="0.1" font-weight="bold">G</text>
<text x="144.50" y="417.02" font-size="9" text-anchor="middle" fill="#111" stroke="#111" stroke-width="0.22" transform="rotate(-90 144.50 413.80)">Bioluminescence</text>
<text x="153.80" y="417.02" font-size="9" text-anchor="middle" fill="#111" stroke="#111" stroke-width="0.22" transform="rotate(-90 153.80 413.80)">(p/s/cm<tspan font-size="5.6" dy="-3">2</tspan><tspan dy="3">/sr)</tspan></text>
<g id="panelG">
<path d="M203.60 459.50 V398.00 H218.20 V459.50" stroke="#111" stroke-width="1.3" fill="#fff"/>
<line x1="210.90" y1="383.30" x2="210.90" y2="398.00" stroke="#111" stroke-width="0.9"/>
<line x1="207.50" y1="383.30" x2="214.30" y2="383.30" stroke="#111" stroke-width="0.9"/>
<circle cx="210.50" cy="377.00" r="1.7" fill="#111"/>
<circle cx="210.50" cy="389.30" r="1.7" fill="#111"/>
<circle cx="207.50" cy="405.00" r="1.7" fill="#111"/>
<circle cx="213.80" cy="403.80" r="1.7" fill="#111"/>
<circle cx="207.50" cy="410.00" r="1.7" fill="#111"/>
<circle cx="213.80" cy="409.50" r="1.7" fill="#111"/>
<circle cx="210.50" cy="415.00" r="1.7" fill="#111"/>
<path d="M226.30 459.50 V398.00 H241.20 V459.50" stroke="#1f3fb0" stroke-width="1.3" fill="#fff"/>
<line x1="233.75" y1="379.30" x2="233.75" y2="398.00" stroke="#1f3fb0" stroke-width="0.9"/>
<line x1="230.35" y1="379.30" x2="237.15" y2="379.30" stroke="#1f3fb0" stroke-width="0.9"/>
<rect x="226.41" y="376.61" width="2.79" height="2.79" fill="#1f3fb0"/>
<rect x="232.91" y="379.41" width="2.79" height="2.79" fill="#1f3fb0"/>
<rect x="238.61" y="378.61" width="2.79" height="2.79" fill="#1f3fb0"/>
<rect x="232.91" y="391.91" width="2.79" height="2.79" fill="#1f3fb0"/>
<rect x="232.91" y="408.61" width="2.79" height="2.79" fill="#1f3fb0"/>
<rect x="238.61" y="406.61" width="2.79" height="2.79" fill="#1f3fb0"/>
<rect x="232.91" y="420.41" width="2.79" height="2.79" fill="#1f3fb0"/>
<rect x="232.91" y="424.91" width="2.79" height="2.79" fill="#1f3fb0"/>
<path d="M249.30 459.50 V392.50 H264.40 V459.50" stroke="#9a9a9a" stroke-width="1.3" fill="#fff"/>
<line x1="256.85" y1="378.80" x2="256.85" y2="392.50" stroke="#9a9a9a" stroke-width="0.9"/>
<line x1="253.45" y1="378.80" x2="260.25" y2="378.80" stroke="#9a9a9a" stroke-width="0.9"/>
<rect x="252.41" y="373.61" width="2.79" height="2.79" fill="#9a9a9a"/>
<rect x="258.61" y="373.61" width="2.79" height="2.79" fill="#9a9a9a"/>
<rect x="255.61" y="379.91" width="2.79" height="2.79" fill="#9a9a9a"/>
<rect x="255.61" y="387.41" width="2.79" height="2.79" fill="#9a9a9a"/>
<rect x="255.61" y="396.11" width="2.79" height="2.79" fill="#9a9a9a"/>
<rect x="258.61" y="401.11" width="2.79" height="2.79" fill="#9a9a9a"/>
<rect x="252.41" y="409.11" width="2.79" height="2.79" fill="#9a9a9a"/>
<rect x="258.61" y="407.41" width="2.79" height="2.79" fill="#9a9a9a"/>
<path d="M272.10 459.50 V432.50 H287.40 V459.50" stroke="#d6201f" stroke-width="1.3" fill="#fff"/>
<line x1="279.75" y1="425.50" x2="279.75" y2="432.50" stroke="#d6201f" stroke-width="0.9"/>
<line x1="276.35" y1="425.50" x2="283.15" y2="425.50" stroke="#d6201f" stroke-width="0.9"/>
<path d="M286.30 420.60 L288.20 424.02 L284.40 424.02 Z" fill="#d6201f"/>
<path d="M280.00 422.60 L281.90 426.02 L278.10 426.02 Z" fill="#d6201f"/>
<path d="M286.30 428.90 L288.20 432.32 L284.40 432.32 Z" fill="#d6201f"/>
<path d="M273.80 430.60 L275.70 434.02 L271.90 434.02 Z" fill="#d6201f"/>
<path d="M280.00 431.10 L281.90 434.52 L278.10 434.52 Z" fill="#d6201f"/>
<path d="M285.00 432.40 L286.90 435.82 L283.10 435.82 Z" fill="#d6201f"/>
<path d="M280.00 436.40 L281.90 439.82 L278.10 439.82 Z" fill="#d6201f"/>
<path d="M280.00 442.60 L281.90 446.02 L278.10 446.02 Z" fill="#d6201f"/>
<line x1="195.80" y1="359.50" x2="195.80" y2="460.10" stroke="#111" stroke-width="1.25"/>
<line x1="195.20" y1="459.50" x2="294.50" y2="459.50" stroke="#111" stroke-width="1.25"/>
<line x1="191.60" y1="459.50" x2="195.80" y2="459.50" stroke="#111" stroke-width="1.2"/>
<text x="190.30" y="462.44" font-size="8.2" text-anchor="end" fill="#111" stroke="#111" stroke-width="0.22">0</text>
<line x1="191.60" y1="430.66" x2="195.80" y2="430.66" stroke="#111" stroke-width="1.2"/>
<text x="190.30" y="433.60" font-size="8.2" text-anchor="end" fill="#111" stroke="#111" stroke-width="0.22">2<tspan font-size="7.5">&#8201;×&#8201;</tspan>10<tspan font-size="5.6" dy="-3.2">5</tspan></text>
<line x1="191.60" y1="401.82" x2="195.80" y2="401.82" stroke="#111" stroke-width="1.2"/>
<text x="190.30" y="404.76" font-size="8.2" text-anchor="end" fill="#111" stroke="#111" stroke-width="0.22">4<tspan font-size="7.5">&#8201;×&#8201;</tspan>10<tspan font-size="5.6" dy="-3.2">5</tspan></text>
<line x1="191.60" y1="372.98" x2="195.80" y2="372.98" stroke="#111" stroke-width="1.2"/>
<text x="190.30" y="375.92" font-size="8.2" text-anchor="end" fill="#111" stroke="#111" stroke-width="0.22">6<tspan font-size="7.5">&#8201;×&#8201;</tspan>10<tspan font-size="5.6" dy="-3.2">5</tspan></text>
<line x1="210.90" y1="459.50" x2="210.90" y2="463.70" stroke="#111" stroke-width="1.2"/>
<line x1="233.75" y1="459.50" x2="233.75" y2="463.70" stroke="#111" stroke-width="1.2"/>
<line x1="256.85" y1="459.50" x2="256.85" y2="463.70" stroke="#111" stroke-width="1.2"/>
<line x1="279.75" y1="459.50" x2="279.75" y2="463.70" stroke="#111" stroke-width="1.2"/>
</g>
<line x1="209.40" y1="370.00" x2="258.80" y2="370.00" stroke="#555" stroke-width="0.9"/>
<path d="M233.2 370 V365 H279.5 V370" stroke="#111" stroke-width="0.8" fill="none"/>
<text x="256.30" y="363.86" font-size="8" text-anchor="middle" fill="#000" stroke="#000" stroke-width="0.22" font-weight="bold">****</text>
<text x="207.20" y="471.02" font-size="7.6" text-anchor="middle" fill="#111" stroke="#111" stroke-width="0.22">Veh</text>
<text x="230.60" y="471.02" font-size="7.6" text-anchor="middle" fill="#111" stroke="#111" stroke-width="0.22">CHZ868</text>
<text x="256.30" y="471.02" font-size="7.6" text-anchor="middle" fill="#111" stroke="#111" stroke-width="0.22">Tram</text>
<text x="282.50" y="471.02" font-size="7.6" text-anchor="middle" fill="#111" stroke="#111" stroke-width="0.22">CHZ868</text>
<text x="280.30" y="480.32" font-size="7.6" text-anchor="middle" fill="#111" stroke="#111" stroke-width="0.22">+ Tram</text>
<g id="panelH">
<text x="329.40" y="331.15" font-size="13" text-anchor="start" fill="#000" stroke="#000" stroke-width="0.1" font-weight="bold">H</text>
<defs>
<radialGradient id="bg"><stop offset="0" stop-color="#a8ff28"/><stop offset="0.24" stop-color="#30f060"/><stop offset="0.40" stop-color="#00d8e0"/><stop offset="0.52" stop-color="#009cff"/><stop offset="0.64" stop-color="#0a38ff"/><stop offset="0.88" stop-color="#2410e4"/><stop offset="1" stop-color="#5a1cd8" stop-opacity="0"/></radialGradient>
<radialGradient id="bc"><stop offset="0" stop-color="#40ffc0"/><stop offset="0.22" stop-color="#00d0f0"/><stop offset="0.45" stop-color="#0a70ff"/><stop offset="0.65" stop-color="#0a30ff"/><stop offset="0.88" stop-color="#2410e4"/><stop offset="1" stop-color="#5a1cd8" stop-opacity="0"/></radialGradient>
<radialGradient id="bb"><stop offset="0" stop-color="#0a50ff"/><stop offset="0.55" stop-color="#1a18f0"/><stop offset="0.85" stop-color="#4a18d8"/><stop offset="1" stop-color="#8a30d0" stop-opacity="0"/></radialGradient>
<radialGradient id="bs"><stop offset="0" stop-color="#40ffb0"/><stop offset="0.35" stop-color="#00a0ff"/><stop offset="0.7" stop-color="#1020f0"/><stop offset="1" stop-color="#5020d0" stop-opacity="0.1"/></radialGradient>
<radialGradient id="bp"><stop offset="0" stop-color="#8a3ce0" stop-opacity="0.85"/><stop offset="0.6" stop-color="#b068e8" stop-opacity="0.6"/><stop offset="1" stop-color="#d090f0" stop-opacity="0"/></radialGradient>
<filter id="soft" x="-20%" y="-20%" width="140%" height="140%"><feGaussianBlur stdDeviation="0.7"/></filter>
<filter id="soft2" x="-20%" y="-20%" width="140%" height="140%"><feGaussianBlur stdDeviation="0.45"/></filter>
<filter id="darknoise" x="0" y="0" width="100%" height="100%"><feTurbulence type="fractalNoise" baseFrequency="0.12" numOctaves="2" seed="5"/><feColorMatrix type="matrix" values="0 0 0 0 0.2  0 0 0 0 0.2  0 0 0 0 0.2  1.6 0 0 0 -0.8"/><feComposite operator="in" in2="SourceGraphic"/></filter>
<g id="tmouse">
 <path d="M-5.6 10.5 L-8.6 14.6 L-7.8 16.4 L-3.6 14.4 Z M5.6 10.5 L8.6 14.6 L7.8 16.4 L3.6 14.4 Z" fill="#d2d2d2"/>
 <path d="M-4.2 -8.6 L-7 -5.6 L-6.2 -4.6 L-4 -6.2 Z M4.2 -8.6 L7 -5.6 L6.2 -4.6 L4 -6.2 Z" fill="#c8c8c8"/>
 <path d="M0 -17.4 C1.2 -16.8 1.9 -15 2.1 -13 C2.6 -11 3.6 -9 4.6 -7 C5.6 -4.6 6.3 -2 6.6 1 C7.1 4 7.3 7 6.9 9.8 C6.4 12.8 4.8 14.6 2.2 15.4 L0.9 15.6 L0.6 22 L-0.6 22 L-0.9 15.6 L-2.2 15.4 C-4.8 14.6 -6.4 12.8 -6.9 9.8 C-7.3 7 -7.1 4 -6.6 1 C-6.3 -2 -5.6 -4.6 -4.6 -7 C-3.6 -9 -2.6 -11 -2.1 -13 C-1.9 -15 -1.2 -16.8 0 -17.4 Z" fill="#f4f4f4"/>
 <ellipse cx="-2.3" cy="-11.6" rx="1.2" ry="1.5" fill="#cfcbd2"/><ellipse cx="2.3" cy="-11.6" rx="1.2" ry="1.5" fill="#cfcbd2"/>
</g>
</defs>
<rect x="356.8" y="320.9" width="81.2" height="43.4" fill="#212121"/>
<rect x="356.8" y="320.9" width="81.2" height="43.4" fill="#fff" filter="url(#darknoise)"/>
<g filter="url(#soft)">
<use href="#tmouse" x="368.0" y="342.8"/>
<use href="#tmouse" x="383.3" y="342.8"/>
<use href="#tmouse" x="412.7" y="342.8"/>
<use href="#tmouse" x="426.7" y="342.8"/>
</g><g filter="url(#soft2)">
<ellipse cx="367.6" cy="337.2" rx="5.2" ry="3.2" fill="url(#bp)"/>
<ellipse cx="383" cy="337" rx="5" ry="3" fill="url(#bp)"/>
<ellipse cx="412.7" cy="336" rx="5.5" ry="3" fill="url(#bp)"/>
<ellipse cx="426.7" cy="334.5" rx="5" ry="3" fill="url(#bp)"/>
<ellipse cx="367.8" cy="342.9" rx="6.9" ry="5.8" fill="url(#bg)"/>
<ellipse cx="361.1" cy="350.6" rx="2.3" ry="2.3" fill="url(#bb)"/>
<ellipse cx="370.9" cy="353.3" rx="2.4" ry="2.4" fill="url(#bb)"/>
<ellipse cx="365.5" cy="336" rx="2" ry="1.8" fill="url(#bb)"/>
<ellipse cx="383.2" cy="342" rx="6.9" ry="5.6" fill="url(#bg)"/>
<ellipse cx="377" cy="351.8" rx="2.3" ry="2.3" fill="url(#bb)"/>
<ellipse cx="389.2" cy="351.4" rx="2.3" ry="2.3" fill="url(#bb)"/>
<ellipse cx="412.7" cy="342.7" rx="7.2" ry="6.4" fill="url(#bg)"/>
<ellipse cx="408.8" cy="335.4" rx="2.6" ry="2.1" fill="url(#bb)"/>
<ellipse cx="415.8" cy="335.4" rx="2.6" ry="2.1" fill="url(#bb)"/>
<ellipse cx="405.4" cy="352.7" rx="3" ry="3" fill="url(#bs)"/>
<ellipse cx="426.7" cy="340.8" rx="7" ry="7.2" fill="url(#bg)"/>
<ellipse cx="423" cy="351.8" rx="3" ry="3" fill="url(#bg)"/>
<ellipse cx="419.2" cy="352" rx="2.4" ry="2.4" fill="url(#bs)"/>
<ellipse cx="433.7" cy="350" rx="2.4" ry="2.6" fill="url(#bs)"/>
</g>
<rect x="356.8" y="366.6" width="81.2" height="42.9" fill="#212121"/>
<rect x="356.8" y="366.6" width="81.2" height="42.9" fill="#fff" filter="url(#darknoise)"/>
<g filter="url(#soft)">
<use href="#tmouse" x="366.8" y="388.0"/>
<use href="#tmouse" x="381.9" y="388.0"/>
<use href="#tmouse" x="410.2" y="388.0"/>
<use href="#tmouse" x="424.8" y="388.0"/>
</g><g filter="url(#soft2)">
<ellipse cx="366.5" cy="380" rx="5.5" ry="3.5" fill="url(#bp)"/>
<ellipse cx="381.8" cy="381" rx="5.5" ry="3.5" fill="url(#bp)"/>
<ellipse cx="410.1" cy="377" rx="5" ry="4" fill="url(#bp)"/>
<ellipse cx="424.7" cy="377" rx="5" ry="4" fill="url(#bp)"/>
<ellipse cx="427" cy="392" rx="5" ry="3" fill="url(#bp)"/>
<ellipse cx="366.5" cy="386" rx="6.4" ry="7.6" fill="url(#bc)"/>
<ellipse cx="366" cy="390" rx="3" ry="2.6" fill="url(#bg)"/>
<ellipse cx="360.5" cy="398.6" rx="3" ry="3" fill="url(#bs)"/>
<ellipse cx="372.2" cy="399" rx="2.7" ry="2.7" fill="url(#bs)"/>
<ellipse cx="381.8" cy="386.8" rx="6.4" ry="6.4" fill="url(#bc)"/>
<ellipse cx="377.5" cy="399.7" rx="2.8" ry="2.8" fill="url(#bs)"/>
<ellipse cx="389.6" cy="398" rx="2.4" ry="2.4" fill="url(#bb)"/>
<ellipse cx="410.1" cy="384" rx="6" ry="8.6" fill="url(#bc)"/>
<ellipse cx="404.1" cy="397.3" rx="3" ry="3" fill="url(#bs)"/>
<ellipse cx="415.5" cy="397.8" rx="3.1" ry="3.1" fill="url(#bg)"/>
<ellipse cx="424.7" cy="383.8" rx="6" ry="8" fill="url(#bc)"/>
<ellipse cx="420.6" cy="395.7" rx="2.7" ry="2.7" fill="url(#bb)"/>
<ellipse cx="429.5" cy="394" rx="3" ry="3" fill="url(#bs)"/>
</g>
<rect x="356.8" y="411.9" width="81.2" height="42.8" fill="#212121"/>
<rect x="356.8" y="411.9" width="81.2" height="42.8" fill="#fff" filter="url(#darknoise)"/>
<g filter="url(#soft)">
<use href="#tmouse" x="367.0" y="433.8"/>
<use href="#tmouse" x="381.8" y="433.8"/>
<use href="#tmouse" x="410.6" y="433.8"/>
<use href="#tmouse" x="424.7" y="433.8"/>
</g><g filter="url(#soft2)">
<ellipse cx="367" cy="426.5" rx="5" ry="3" fill="url(#bp)"/>
<ellipse cx="410.6" cy="426" rx="5" ry="3" fill="url(#bp)"/>
<ellipse cx="424.7" cy="426" rx="5" ry="3" fill="url(#bp)"/>
<ellipse cx="368" cy="441" rx="5" ry="3" fill="url(#bp)"/>
<ellipse cx="367" cy="432.6" rx="6.5" ry="5" fill="url(#bg)"/>
<ellipse cx="365.5" cy="426.5" rx="3.2" ry="2" fill="url(#bb)"/>
<ellipse cx="360.8" cy="440.7" rx="2.3" ry="2.3" fill="url(#bb)"/>
<ellipse cx="374.6" cy="441.5" rx="3.2" ry="3" fill="url(#bs)"/>
<ellipse cx="381.8" cy="429.6" rx="5.8" ry="7.6" fill="url(#bc)"/>
<ellipse cx="381.8" cy="433.2" rx="3.6" ry="2.8" fill="url(#bg)"/>
<ellipse cx="380.2" cy="442.3" rx="2.7" ry="2.7" fill="url(#bb)"/>
<ellipse cx="387.5" cy="442.3" rx="3.1" ry="3.1" fill="url(#bs)"/>
<ellipse cx="410.6" cy="431.8" rx="6" ry="5.8" fill="url(#bc)"/>
<ellipse cx="410.6" cy="426.6" rx="3.2" ry="2.2" fill="url(#bb)"/>
<ellipse cx="403.3" cy="441.2" rx="2.6" ry="2.6" fill="url(#bs)"/>
<ellipse cx="414.5" cy="443.9" rx="2.6" ry="2.6" fill="url(#bb)"/>
<ellipse cx="424.7" cy="431.8" rx="6.4" ry="5.4" fill="url(#bg)"/>
<ellipse cx="424.7" cy="425.6" rx="3.4" ry="2.2" fill="url(#bb)"/>
<ellipse cx="419.8" cy="440.7" rx="2.7" ry="2.7" fill="url(#bs)"/>
<ellipse cx="430.6" cy="440.7" rx="2.8" ry="2.8" fill="url(#bs)"/>
</g>
<rect x="356.8" y="457.5" width="81.2" height="42.9" fill="#212121"/>
<rect x="356.8" y="457.5" width="81.2" height="42.9" fill="#fff" filter="url(#darknoise)"/>
<g filter="url(#soft)">
<use href="#tmouse" x="367.3" y="479.0"/>
<use href="#tmouse" x="382.7" y="479.0"/>
<use href="#tmouse" x="411.7" y="479.0"/>
<use href="#tmouse" x="426.3" y="479.0"/>
</g><g filter="url(#soft2)">
<ellipse cx="382" cy="471" rx="5" ry="3" fill="url(#bp)"/>
<ellipse cx="411" cy="471.5" rx="4.5" ry="2.8" fill="url(#bp)"/>
<ellipse cx="426" cy="472" rx="5" ry="3" fill="url(#bp)"/>
<ellipse cx="383" cy="486" rx="4" ry="2.5" fill="url(#bp)"/>
<ellipse cx="367.3" cy="477.8" rx="5.9" ry="3.4" fill="url(#bb)"/>
<ellipse cx="369.7" cy="485.9" rx="2.3" ry="2.3" fill="url(#bb)"/>
<ellipse cx="381.8" cy="477.2" rx="6.4" ry="6.6" fill="url(#bc)"/>
<ellipse cx="378.4" cy="470.4" rx="2.4" ry="2" fill="url(#bb)"/>
<ellipse cx="385" cy="470.4" rx="2.4" ry="2" fill="url(#bb)"/>
<ellipse cx="377.8" cy="489.1" rx="3.1" ry="3.1" fill="url(#bs)"/>
<ellipse cx="389.6" cy="487.5" rx="2.5" ry="2.5" fill="url(#bb)"/>
<ellipse cx="410.9" cy="477.8" rx="5.8" ry="4.8" fill="url(#bc)"/>
<ellipse cx="408" cy="487.5" rx="2.6" ry="2.6" fill="url(#bb)"/>
<ellipse cx="427.1" cy="477.8" rx="5.2" ry="4.6" fill="url(#bc)"/>
<ellipse cx="423.2" cy="471.3" rx="2" ry="1.7" fill="url(#bb)"/>
<ellipse cx="428.9" cy="471.3" rx="2" ry="1.7" fill="url(#bb)"/>
<ellipse cx="420.6" cy="487.5" rx="2.6" ry="2.6" fill="url(#bb)"/>
<ellipse cx="432.7" cy="485.9" rx="2.6" ry="2.6" fill="url(#bb)"/>
</g>
<text x="350.80" y="345.34" font-size="8.5" text-anchor="middle" fill="#111" stroke="#111" stroke-width="0.22" transform="rotate(-90 350.80 342.30)">Vehicle</text>
<text x="350.80" y="391.34" font-size="8.5" text-anchor="middle" fill="#111" stroke="#111" stroke-width="0.22" transform="rotate(-90 350.80 388.30)">CHZ868</text>
<text x="350.80" y="436.04" font-size="8.5" text-anchor="middle" fill="#111" stroke="#111" stroke-width="0.22" transform="rotate(-90 350.80 433.00)">Trametinib</text>
<text x="342.00" y="481.84" font-size="8.5" text-anchor="middle" fill="#111" stroke="#111" stroke-width="0.22" transform="rotate(-90 342.00 478.80)">CHZ868 +</text>
<text x="350.80" y="481.84" font-size="8.5" text-anchor="middle" fill="#111" stroke="#111" stroke-width="0.22" transform="rotate(-90 350.80 478.80)">Trametinib</text>
<defs><linearGradient id="cbar" x1="0" y1="0" x2="0" y2="1"><stop offset="0" stop-color="#a80c10"/><stop offset="0.04" stop-color="#e8141c"/><stop offset="0.12" stop-color="#ff7a00"/><stop offset="0.26" stop-color="#ffe800"/><stop offset="0.40" stop-color="#58e000"/><stop offset="0.55" stop-color="#00d060"/><stop offset="0.68" stop-color="#00d0e8"/><stop offset="0.80" stop-color="#0060ff"/><stop offset="0.92" stop-color="#2000e0"/><stop offset="1" stop-color="#5000c0"/></linearGradient></defs>
<rect x="449.8" y="366.1" width="3.7" height="70.6" fill="url(#cbar)"/>
<text x="448.60" y="362.35" font-size="8.25" text-anchor="start" fill="#223" stroke="#223" stroke-width="0.22">Counts</text>
<text x="457.60" y="372.91" font-size="7.0" text-anchor="start" fill="#223" stroke="#223" stroke-width="0.22">20,000</text>
<text x="457.60" y="389.91" font-size="7.0" text-anchor="start" fill="#223" stroke="#223" stroke-width="0.22">15,000</text>
<text x="457.60" y="408.11" font-size="7.0" text-anchor="start" fill="#223" stroke="#223" stroke-width="0.22">10,000</text>
<text x="457.60" y="426.21" font-size="7.0" text-anchor="start" fill="#223" stroke="#223" stroke-width="0.22">5,000</text>
</g>
<text x="2.00" y="527.65" font-size="13" text-anchor="start" fill="#000" stroke="#000" stroke-width="0.1" font-weight="bold">I</text>
<text x="4.40" y="591.94" font-size="8.2" text-anchor="middle" fill="#111" stroke="#111" stroke-width="0.22" transform="rotate(-90 4.40 589.00)">BM infiltration (%)</text>
<g id="panelI">
<path d="M35.90 637.40 V588.60 H50.60 V637.40" stroke="#111" stroke-width="1.3" fill="#fff"/>
<line x1="43.25" y1="572.50" x2="43.25" y2="588.60" stroke="#111" stroke-width="0.9"/>
<line x1="39.85" y1="572.50" x2="46.65" y2="572.50" stroke="#111" stroke-width="0.9"/>
<circle cx="40.40" cy="572.50" r="1.7" fill="#111"/>
<circle cx="46.30" cy="572.50" r="1.7" fill="#111"/>
<circle cx="43.20" cy="580.80" r="1.7" fill="#111"/>
<circle cx="43.20" cy="588.00" r="1.7" fill="#111"/>
<circle cx="43.20" cy="604.20" r="1.7" fill="#111"/>
<circle cx="43.20" cy="612.90" r="1.7" fill="#111"/>
<path d="M58.00 637.40 V588.60 H72.70 V637.40" stroke="#1f3fb0" stroke-width="1.3" fill="#fff"/>
<line x1="65.35" y1="567.90" x2="65.35" y2="588.60" stroke="#1f3fb0" stroke-width="0.9"/>
<line x1="61.95" y1="567.90" x2="68.75" y2="567.90" stroke="#1f3fb0" stroke-width="0.9"/>
<rect x="64.01" y="554.91" width="2.79" height="2.79" fill="#1f3fb0"/>
<rect x="61.11" y="579.11" width="2.79" height="2.79" fill="#1f3fb0"/>
<rect x="67.31" y="579.11" width="2.79" height="2.79" fill="#1f3fb0"/>
<rect x="64.01" y="595.31" width="2.79" height="2.79" fill="#1f3fb0"/>
<rect x="64.01" y="603.41" width="2.79" height="2.79" fill="#1f3fb0"/>
<rect x="64.01" y="611.51" width="2.79" height="2.79" fill="#1f3fb0"/>
<path d="M80.30 637.40 V604.80 H95.00 V637.40" stroke="#9a9a9a" stroke-width="1.3" fill="#fff"/>
<line x1="87.65" y1="596.70" x2="87.65" y2="604.80" stroke="#9a9a9a" stroke-width="0.9"/>
<line x1="84.25" y1="596.70" x2="91.05" y2="596.70" stroke="#9a9a9a" stroke-width="0.9"/>
<rect x="83.41" y="595.31" width="2.79" height="2.79" fill="#9a9a9a"/>
<rect x="89.61" y="595.31" width="2.79" height="2.79" fill="#9a9a9a"/>
<rect x="83.41" y="611.51" width="2.79" height="2.79" fill="#9a9a9a"/>
<rect x="89.61" y="611.51" width="2.79" height="2.79" fill="#9a9a9a"/>
<path d="M102.40 637.40 V620.40 H117.60 V637.40" stroke="#d6201f" stroke-width="1.3" fill="#fff"/>
<line x1="110.00" y1="616.40" x2="110.00" y2="620.40" stroke="#d6201f" stroke-width="0.9"/>
<line x1="106.60" y1="616.40" x2="113.40" y2="616.40" stroke="#d6201f" stroke-width="0.9"/>
<path d="M109.90 611.00 L111.80 614.42 L108.00 614.42 Z" fill="#d6201f"/>
<path d="M104.50 618.50 L106.40 621.92 L102.60 621.92 Z" fill="#d6201f"/>
<path d="M115.80 618.50 L117.70 621.92 L113.90 621.92 Z" fill="#d6201f"/>
<path d="M109.90 621.10 L111.80 624.52 L108.00 624.52 Z" fill="#d6201f"/>
<path d="M106.40 626.60 L108.30 630.02 L104.50 630.02 Z" fill="#d6201f"/>
<path d="M113.10 626.60 L115.00 630.02 L111.20 630.02 Z" fill="#d6201f"/>
<line x1="28.20" y1="538.60" x2="28.20" y2="638.00" stroke="#111" stroke-width="1.25"/>
<line x1="27.60" y1="637.40" x2="124.40" y2="637.40" stroke="#111" stroke-width="1.25"/>
<line x1="24.60" y1="637.40" x2="28.20" y2="637.40" stroke="#111" stroke-width="1.2"/>
<text x="22.60" y="640.12" font-size="7.6" text-anchor="end" fill="#111" stroke="#111" stroke-width="0.22">0</text>
<line x1="24.60" y1="604.88" x2="28.20" y2="604.88" stroke="#111" stroke-width="1.2"/>
<text x="22.60" y="607.60" font-size="7.6" text-anchor="end" fill="#111" stroke="#111" stroke-width="0.22">20</text>
<line x1="24.60" y1="572.36" x2="28.20" y2="572.36" stroke="#111" stroke-width="1.2"/>
<text x="22.60" y="575.08" font-size="7.6" text-anchor="end" fill="#111" stroke="#111" stroke-width="0.22">40</text>
<line x1="24.60" y1="539.84" x2="28.20" y2="539.84" stroke="#111" stroke-width="1.2"/>
<text x="22.60" y="542.56" font-size="7.6" text-anchor="end" fill="#111" stroke="#111" stroke-width="0.22">60</text>
<line x1="43.25" y1="637.40" x2="43.25" y2="641.00" stroke="#111" stroke-width="1.2"/>
<line x1="65.35" y1="637.40" x2="65.35" y2="641.00" stroke="#111" stroke-width="1.2"/>
<line x1="87.65" y1="637.40" x2="87.65" y2="641.00" stroke="#111" stroke-width="1.2"/>
<line x1="110.00" y1="637.40" x2="110.00" y2="641.00" stroke="#111" stroke-width="1.2"/>
</g>
<line x1="38.50" y1="547.70" x2="72.20" y2="547.70" stroke="#555" stroke-width="0.9"/>
<path d="M55.2 547.7 V542.8 H110.9 V573.8" stroke="#111" stroke-width="0.8" fill="none"/>
<text x="82.90" y="541.06" font-size="8" text-anchor="middle" fill="#000" stroke="#000" stroke-width="0.22" font-weight="bold">**</text>
<text x="39.00" y="649.52" font-size="7.6" text-anchor="middle" fill="#111" stroke="#111" stroke-width="0.22">Veh</text>
<text x="63.80" y="649.52" font-size="7.6" text-anchor="middle" fill="#111" stroke="#111" stroke-width="0.22">CHZ868</text>
<text x="89.70" y="649.52" font-size="7.6" text-anchor="middle" fill="#111" stroke="#111" stroke-width="0.22">Tram</text>
<text x="116.30" y="649.52" font-size="7.6" text-anchor="middle" fill="#111" stroke="#111" stroke-width="0.22">CHZ868</text>
<text x="115.80" y="660.02" font-size="7.6" text-anchor="middle" fill="#111" stroke="#111" stroke-width="0.22">+ Tram</text>
<g id="panelJ">
<text x="166.80" y="527.85" font-size="13" text-anchor="start" fill="#000" stroke="#000" stroke-width="0.1" font-weight="bold">J</text>
<text x="221.60" y="543.19" font-size="8.9" text-anchor="middle" fill="#111" stroke="#111" stroke-width="0.22">Vehicle</text>
<text x="303.00" y="543.19" font-size="8.9" text-anchor="middle" fill="#111" stroke="#111" stroke-width="0.22">CHZ868</text>
<text x="383.30" y="543.19" font-size="8.9" text-anchor="middle" fill="#111" stroke="#111" stroke-width="0.22">Trametinib</text>
<text x="464.60" y="533.79" font-size="8.9" text-anchor="middle" fill="#111" stroke="#111" stroke-width="0.22">CHZ868 +</text>
<text x="464.60" y="544.19" font-size="8.9" text-anchor="middle" fill="#111" stroke="#111" stroke-width="0.22">Trametinib</text>
<text x="171.00" y="579.06" font-size="9.1" text-anchor="middle" fill="#111" stroke="#111" stroke-width="0.22" transform="rotate(-90 171.00 575.80)">H&amp;E (400x)</text>
<text x="171.00" y="640.16" font-size="9.1" text-anchor="middle" fill="#111" stroke="#111" stroke-width="0.22" transform="rotate(-90 171.00 636.90)">hCD45 (400x)</text>
<line x1="178.00" y1="545.70" x2="178.00" y2="604.60" stroke="#5a5a5a" stroke-width="1.8"/>
<line x1="178.00" y1="607.10" x2="178.00" y2="666.10" stroke="#5a5a5a" stroke-width="1.8"/>
<defs>
<filter id="he1" x="0" y="0" width="100%" height="100%" color-interpolation-filters="sRGB"><feTurbulence type="fractalNoise" baseFrequency="0.4" numOctaves="3" seed="2"/><feColorMatrix type="matrix" values="0 0 0 0 0.502  0 0 0 0 0.361  0 0 0 0 0.690  1.6 0 0 0 -0.44"/><feComposite operator="in" in2="SourceGraphic"/></filter>
<filter id="he2" x="0" y="0" width="100%" height="100%" color-interpolation-filters="sRGB"><feTurbulence type="fractalNoise" baseFrequency="0.4" numOctaves="3" seed="12"/><feColorMatrix type="matrix" values="0 0 0 0 0.510  0 0 0 0 0.376  0 0 0 0 0.698  1.5 0 0 0 -0.42"/><feComposite operator="in" in2="SourceGraphic"/></filter>
<filter id="he3" x="0" y="0" width="100%" height="100%" color-interpolation-filters="sRGB"><feTurbulence type="fractalNoise" baseFrequency="0.36" numOctaves="3" seed="22"/><feColorMatrix type="matrix" values="0 0 0 0 0.494  0 0 0 0 0.353  0 0 0 0 0.698  2.0 0 0 0 -0.66"/><feComposite operator="in" in2="SourceGraphic"/></filter>
<filter id="he4" x="0" y="0" width="100%" height="100%" color-interpolation-filters="sRGB"><feTurbulence type="fractalNoise" baseFrequency="0.36" numOctaves="3" seed="32"/><feColorMatrix type="matrix" values="0 0 0 0 0.439  0 0 0 0 0.298  0 0 0 0 0.667  2.1 0 0 0 -0.64"/><feComposite operator="in" in2="SourceGraphic"/></filter>
<filter id="he1b" x="0" y="0" width="100%" height="100%" color-interpolation-filters="sRGB"><feTurbulence type="fractalNoise" baseFrequency="0.09" numOctaves="2" seed="8"/><feColorMatrix type="matrix" values="0 0 0 0 0.918  0 0 0 0 0.855  0 0 0 0 0.933  3.0 0 0 0 -1.3"/><feComposite operator="in" in2="SourceGraphic"/></filter>
<filter id="br1" x="0" y="0" width="100%" height="100%" color-interpolation-filters="sRGB"><feTurbulence type="fractalNoise" baseFrequency="0.4" numOctaves="2" seed="4"/><feColorMatrix type="matrix" values="0 0 0 0 0.769  0 0 0 0 0.588  0 0 0 0 0.329  3.0 0 0 0 -1.2"/><feComposite operator="in" in2="SourceGraphic"/></filter>
<filter id="br1b" x="0" y="0" width="100%" height="100%" color-interpolation-filters="sRGB"><feTurbulence type="fractalNoise" baseFrequency="0.12" numOctaves="1" seed="9"/><feColorMatrix type="matrix" values="0 0 0 0 0.925  0 0 0 0 0.902  0 0 0 0 0.855  3.0 0 0 0 -1.45"/><feComposite operator="in" in2="SourceGraphic"/></filter>
<filter id="gy1" x="0" y="0" width="100%" height="100%" color-interpolation-filters="sRGB"><feTurbulence type="fractalNoise" baseFrequency="0.4" numOctaves="3" seed="6"/><feColorMatrix type="matrix" values="0 0 0 0 0.525  0 0 0 0 0.573  0 0 0 0 0.659  2.6 0 0 0 -1.0"/><feComposite operator="in" in2="SourceGraphic"/></filter>
<filter id="br2" x="0" y="0" width="100%" height="100%" color-interpolation-filters="sRGB"><feTurbulence type="fractalNoise" baseFrequency="0.13" numOctaves="2" seed="14"/><feColorMatrix type="matrix" values="0 0 0 0 0.808  0 0 0 0 0.549  0 0 0 0 0.243  3.0 0 0 0 -1.25"/><feComposite operator="in" in2="SourceGraphic"/></filter>
<filter id="b0" x="-5%" y="-5%" width="110%" height="110%"><feGaussianBlur stdDeviation="0.55"/></filter>
<filter id="b1" x="-10%" y="-10%" width="120%" height="120%"><feGaussianBlur stdDeviation="0.5"/></filter>
</defs>
<svg x="181.8" y="545.6" width="78.8" height="59.1" viewBox="0 0 78.8 59.1" overflow="hidden"><g filter="url(#b0)">
<rect x="-2" y="-2" width="82.8" height="63.1" fill="#d8c8e3"/>
<rect width="78.8" height="59.1" fill="#fff" filter="url(#he1b)" opacity="0.5"/>
<rect width="78.8" height="59.1" fill="#fff" filter="url(#he1)" opacity="1"/>
<path d="M80 25 C76 31 73 37 71 44 C69 51 66 55 63 59 L80 59 Z" fill="#e6c4e2" filter="url(#b1)"/>
<path d="M80 23.5 C75.5 30 72.5 36 70.3 43.5 C68.4 50 65.5 54.5 62 59" stroke="#7a50a8" stroke-width="1.1" fill="none" opacity="0.65"/>
</g></svg>
<svg x="263.0" y="545.6" width="78.8" height="59.1" viewBox="0 0 78.8 59.1" overflow="hidden"><g filter="url(#b0)">
<rect x="-2" y="-2" width="82.8" height="63.1" fill="#d7c7e3"/>
<rect width="78.8" height="59.1" fill="#fff" filter="url(#he1b)" opacity="0.5"/>
<rect width="78.8" height="59.1" fill="#fff" filter="url(#he2)" opacity="1"/>
<ellipse cx="12" cy="3" rx="3" ry="2.4" fill="#e2d9ea"/><ellipse cx="64" cy="19" rx="2.6" ry="2.6" fill="#e2d9ea"/><ellipse cx="73" cy="36" rx="3" ry="5" fill="#e2d9ea"/>
</g></svg>
<svg x="344.2" y="545.6" width="78.8" height="59.1" viewBox="0 0 78.8 59.1" overflow="hidden"><g filter="url(#b0)">
<rect x="-2" y="-2" width="82.8" height="63.1" fill="#ddcce6"/>
<rect width="78.8" height="59.1" fill="#fff" filter="url(#he1b)" opacity="0.8"/>
<rect width="78.8" height="59.1" fill="#fff" filter="url(#he3)" opacity="1"/>
<ellipse cx="68" cy="20" rx="4.4" ry="5" fill="#e2d9ea"/><ellipse cx="74" cy="36" rx="2.4" ry="3" fill="#e2d9ea"/><path d="M72 42 L78.4 40 L78.4 58.3 L70 58.3 Z" fill="#dcc6e4" opacity="0.9"/>
</g></svg>
<svg x="425.1" y="545.6" width="78.8" height="59.1" viewBox="0 0 78.8 59.1" overflow="hidden"><g filter="url(#b0)">
<rect x="-2" y="-2" width="82.8" height="63.1" fill="#d4c0e0"/>
<rect width="78.8" height="59.1" fill="#fff" filter="url(#he1b)" opacity="0.45"/>
<rect width="78.8" height="59.1" fill="#fff" filter="url(#he4)" opacity="1"/>
<ellipse cx="66" cy="17" rx="3" ry="3" fill="#e2d9ea"/><ellipse cx="74" cy="54" rx="4" ry="3" fill="#e2d9ea"/><ellipse cx="14" cy="18" rx="2" ry="2" fill="#e2d9ea"/>
</g></svg>
<svg x="181.8" y="607.0" width="78.8" height="59.2" viewBox="0 0 78.8 59.2" overflow="hidden"><g filter="url(#b0)">
<rect x="-2" y="-2" width="82.8" height="63.2" fill="#d9c6a6"/>
<rect width="78.8" height="59.2" fill="#fff" filter="url(#br1b)" opacity="0.7"/>
<rect width="78.8" height="59.2" fill="#fff" filter="url(#br1)" opacity="0.4"/>
<rect width="78.8" height="59.2" fill="#fff" filter="url(#gy1)" opacity="0.25"/>
<path d="M40 0 C37 7 34 13 30 21 C26 29 20 38 15 47 C12 52 9 56 7 59" stroke="#e2d9c6" stroke-width="3.2" fill="none" filter="url(#b1)" opacity="0.9"/>
<g fill="#d8d3c6" filter="url(#b1)" opacity="0.9"><ellipse cx="76.5" cy="19" rx="2.6" ry="4.5"/><ellipse cx="9" cy="28" rx="3.5" ry="2.5"/><ellipse cx="16" cy="8" rx="3" ry="2"/><ellipse cx="4" cy="46" rx="3" ry="3"/></g>
</g></svg>
<svg x="263.0" y="607.0" width="78.8" height="59.2" viewBox="0 0 78.8 59.2" overflow="hidden"><g filter="url(#b0)">
<rect x="-2" y="-2" width="82.8" height="63.2" fill="#dac5a2"/>
<rect width="78.8" height="59.2" fill="#fff" filter="url(#br1b)" opacity="0.7"/>
<rect width="78.8" height="59.2" fill="#fff" filter="url(#br1)" opacity="0.42"/>
<rect width="78.8" height="59.2" fill="#fff" filter="url(#gy1)" opacity="0.25"/>
<g fill="#dcd8cd" filter="url(#b1)"><ellipse cx="21" cy="10" rx="5.5" ry="9" transform="rotate(-20 21 10)"/><ellipse cx="4" cy="3" rx="2.6" ry="2.6"/><ellipse cx="26.6" cy="29.5" rx="3" ry="3.6"/><ellipse cx="34" cy="48.5" rx="3.2" ry="5.2"/><ellipse cx="39" cy="18" rx="2" ry="2.4"/><ellipse cx="29" cy="47" rx="2" ry="3"/><ellipse cx="44" cy="12" rx="1.8" ry="2.2"/></g>
</g></svg>
<svg x="344.2" y="607.0" width="78.8" height="59.2" viewBox="0 0 78.8 59.2" overflow="hidden"><g filter="url(#b0)">
<rect x="-2" y="-2" width="82.8" height="63.2" fill="#dcc3a0"/>
<rect width="78.8" height="59.2" fill="#fff" filter="url(#br1b)" opacity="0.45"/>
<rect width="78.8" height="59.2" fill="#fff" filter="url(#br1)" opacity="0.6"/>
<rect width="78.8" height="59.2" fill="#fff" filter="url(#gy1)" opacity="0.35"/>
<rect width="78.8" height="59.2" fill="#fff" filter="url(#br2)" opacity="0.6"/>
<g fill="#d8d2c4" filter="url(#b1)" opacity="0.8"><ellipse cx="40" cy="40" rx="3" ry="2.4"/><ellipse cx="60" cy="8" rx="2" ry="2"/></g>
</g></svg>
<svg x="425.1" y="607.0" width="78.8" height="59.2" viewBox="0 0 78.8 59.2" overflow="hidden"><g filter="url(#b0)">
<rect x="-2" y="-2" width="82.8" height="63.2" fill="#d4d1c8"/>
<rect width="78.8" height="59.2" fill="#fff" filter="url(#br1b)" opacity="0.6"/>
<rect width="78.8" height="59.2" fill="#fff" filter="url(#gy1)" opacity="0.6"/>
<rect width="78.8" height="59.2" fill="#fff" filter="url(#br1)" opacity="0.3"/>
<rect width="78.8" height="59.2" fill="#fff" filter="url(#br2)" opacity="0.22"/>
<g fill="#e4e2dc" filter="url(#b1)"><ellipse cx="26" cy="9" rx="3" ry="3.5"/><ellipse cx="42" cy="6" rx="2.2" ry="5"/><ellipse cx="22" cy="38" rx="2.6" ry="2.6"/><ellipse cx="6" cy="52" rx="2.6" ry="2.6"/><path d="M80 30 L73.5 31 C71.5 40 69 50 67 60 L80 60 Z" fill="#dbd8d2"/></g>
<path d="M65.5 0 C68 12 71 22 73.5 31 L80 30 L80 0 Z" fill="#d9b88c" opacity="0.75" filter="url(#b1)"/>
</g></svg>
</g>
</svg></body></html>
